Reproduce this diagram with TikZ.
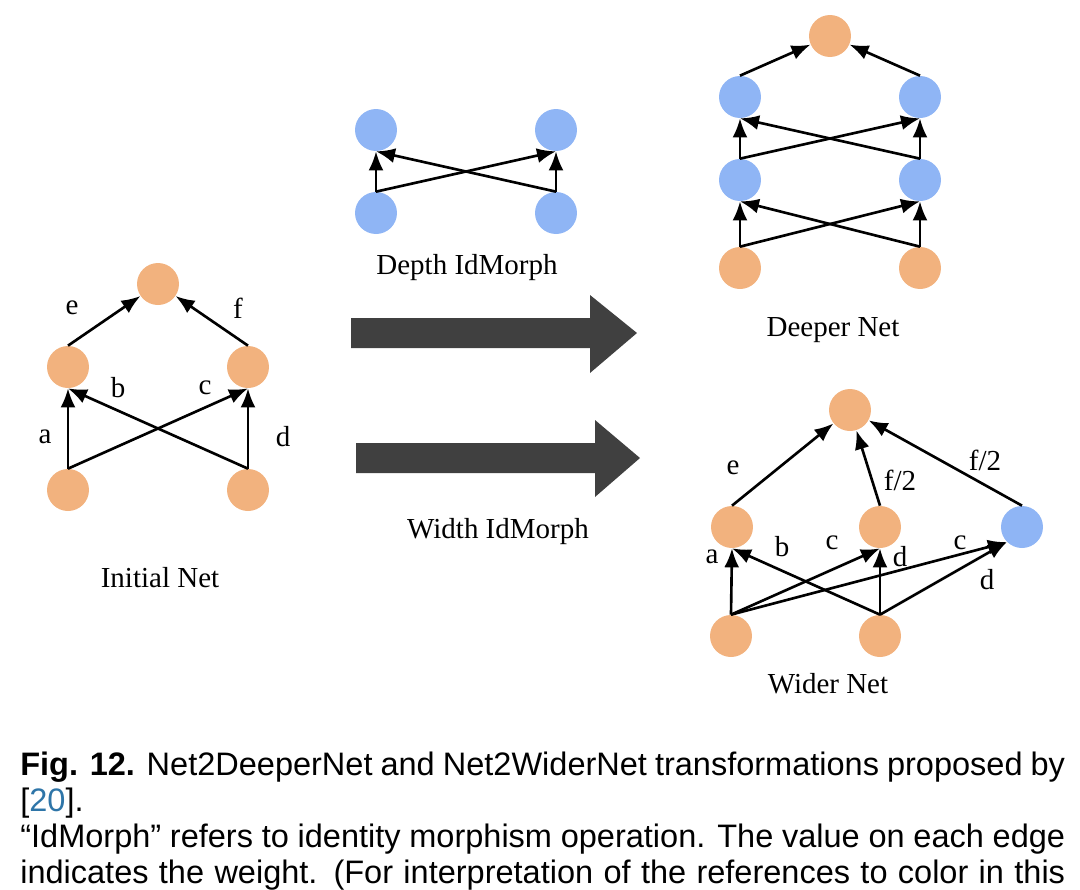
\documentclass[tikz,border=0pt]{standalone}
\usepackage{fontspec}
\setmainfont{Liberation Serif}
\newfontfamily\capfont{Liberation Sans}
\usetikzlibrary{arrows.meta}
\definecolor{org}{RGB}{242,178,126}
\definecolor{blu}{RGB}{143,181,245}
\definecolor{dg}{RGB}{64,64,64}
\definecolor{refc}{RGB}{46,117,168}
\begin{document}
\begin{tikzpicture}[x=0.02cm,y=-0.02cm,
  o/.style={circle,fill=org,minimum size=0.84cm,inner sep=0},
  b/.style={circle,fill=blu,minimum size=0.84cm,inner sep=0},
  e/.style={line width=1.5pt,-{Latex[length=3.8mm,width=3mm]}},
  lab/.style={font=\fontsize{16.5}{19}\selectfont},
  big/.style={fill=dg}]
\useasboundingbox (0,0) rectangle (1080,890);
% Initial net
\node[o] (it) at (158,284) {};
\node[o] (il) at (68,367) {};
\node[o] (ir) at (248,367) {};
\node[o] (ibl) at (68,490) {};
\node[o] (ibr) at (248,490) {};
\draw[e] (ibl.north) -- (il.south);
\draw[e] (ibl.north) -- (ir.south);
\draw[e] (ibr.north) -- (il.south);
\draw[e] (ibr.north) -- (ir.south);
\draw[e] (il.north) -- (it);
\draw[e] (ir.north) -- (it);
\node[lab] (la) at (45,437) {a};
\node[lab] (lb) at (118,388) {b};
\node[lab] (lc) at (205,388) {c};
\node[lab] (ld) at (283,437) {d};
\node[lab] (le) at (72,308) {e};
\node[lab] (lf) at (238,308) {f};
\node[lab] (tin) at (160,578) {Initial Net};
% Depth IdMorph
\node[b] (d1) at (376,130) {};
\node[b] (d2) at (556,130) {};
\node[b] (d3) at (376,213) {};
\node[b] (d4) at (556,213) {};
\draw[e] (d3.north) -- (d1.south);
\draw[e] (d3.north) -- (d2.south);
\draw[e] (d4.north) -- (d1.south);
\draw[e] (d4.north) -- (d2.south);
\node[lab] (tdi) at (467,268) {Depth IdMorph};
% Deeper net
\node[o] (pt) at (830,36) {};
\node[b] (p1) at (740,97) {};
\node[b] (p2) at (920,97) {};
\node[b] (p3) at (740,180) {};
\node[b] (p4) at (920,180) {};
\node[o] (p5) at (740,268) {};
\node[o] (p6) at (920,268) {};
\draw[e] (p1.north) -- (pt);
\draw[e] (p2.north) -- (pt);
\draw[e] (p3.north) -- (p1.south);
\draw[e] (p3.north) -- (p2.south);
\draw[e] (p4.north) -- (p1.south);
\draw[e] (p4.north) -- (p2.south);
\draw[e] (p5.north) -- (p3.south);
\draw[e] (p5.north) -- (p4.south);
\draw[e] (p6.north) -- (p3.south);
\draw[e] (p6.north) -- (p4.south);
\node[lab] (tdn) at (833,330) {Deeper Net};
% big arrows
\fill[big] (351,318) -- (590,318) -- (590,295) -- (637,333) -- (590,373) -- (590,348) -- (351,348) -- cycle;
\fill[big] (356,443) -- (595,443) -- (595,420) -- (640,458) -- (595,497) -- (595,473) -- (356,473) -- cycle;
\node[lab] (twi) at (498,532) {Width IdMorph};
% Wider net
\node[o] (wt) at (850,410) {};
\node[o] (w1) at (732,527) {};
\node[o] (w2) at (880,527) {};
\node[b] (w3) at (1022,527) {};
\node[o] (w4) at (731,636) {};
\node[o] (w5) at (880,636) {};
\draw[e] (w1.north) -- (wt);
\draw[e] (w2.north) -- (wt);
\draw[e] (w3.north) -- (wt);
\draw[e] (w4.north) -- (w1.south);
\draw[e] (w4.north) -- (w2.south);
\draw[e] (w4.north) -- (w3.south west);
\draw[e] (w5.north) -- (w1.south);
\draw[e] (w5.north) -- (w2.south);
\draw[e] (w5.north) -- (w3.south west);
\node[lab] (we) at (733,468) {e};
\node[lab] (wf1) at (900,480) {f/2};
\node[lab] (wf2) at (985,460) {f/2};
\node[lab] (wa) at (712,557) {a};
\node[lab] (wb) at (782,547) {b};
\node[lab] (wc1) at (832,543) {c};
\node[lab] (wd1) at (900,557) {d};
\node[lab] (wc2) at (960,543) {c};
\node[lab] (wd2) at (987,580) {d};
\node[lab] (twn) at (828,684) {Wider Net};
% caption
\node[anchor=north west,inner sep=0,text width=20.9cm,align=justify,
  font=\capfont\fontsize{18.5}{20.5}\selectfont] (cap) at (20,752)
 {\textbf{Fig. 12.} Net2DeeperNet and Net2WiderNet transformations proposed by [{\color{refc}20}].\linebreak “IdMorph” refers to identity morphism operation. The value on each edge\linebreak indicates the weight. (For interpretation of the references to color in this figure\linebreak legend, the reader is referred to the web version of this article.)};
\end{tikzpicture}
\end{document}
